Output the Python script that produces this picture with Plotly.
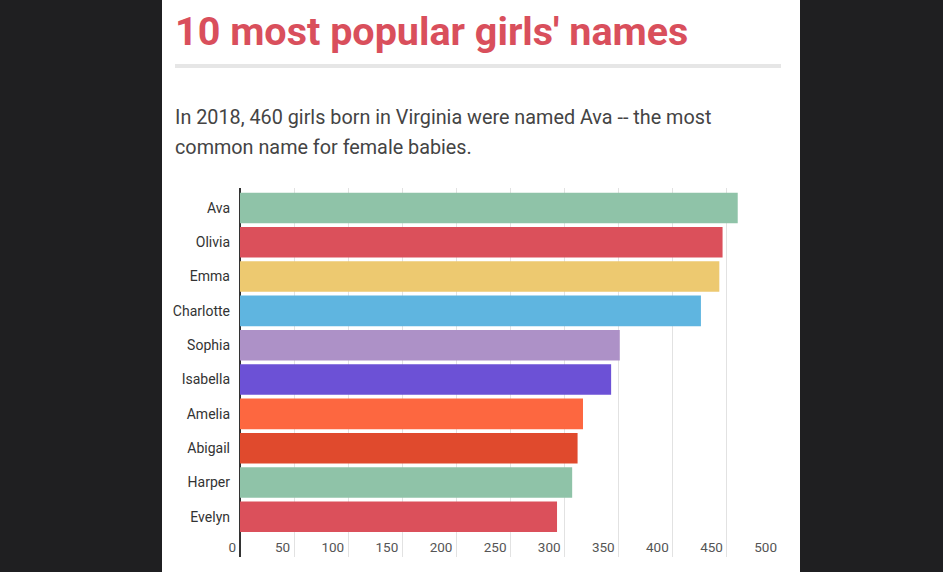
import plotly.graph_objects as go

# data
names = ["Ava", "Olivia", "Emma", "Charlotte", "Sophia",
         "Isabella", "Amelia", "Abigail", "Harper", "Evelyn"]
counts = [460, 446, 443, 426, 351, 343, 317, 312, 307, 293]
bar_colors = ["#8fc3a8", "#db505b", "#edc970", "#5fb5e0", "#ad91c7",
              "#6c51d6", "#fd6740", "#e04a2d", "#8fc3a8", "#db505b"]
x_ticks = [0, 50, 100, 150, 200, 250, 300, 350, 400, 450, 500]

title_text = "10 most popular girls' names"
subtitle_lines = ["In 2018, 460 girls born in Virginia were named Ava -- the most",
                  "common name for female babies."]

W, H = 943, 572

fig = go.Figure()

fig.add_trace(go.Bar(
    x=counts,
    y=names,
    orientation="h",
    marker=dict(color=bar_colors, line=dict(width=0)),
    width=0.89,
    hoverinfo="x+y",
))

# white card behind the chart
fig.add_shape(type="rect", xref="paper", yref="paper",
              x0=162 / W, x1=800 / W, y0=0, y1=1,
              fillcolor="white", line=dict(width=0), layer="below")
# grey rule under the title
fig.add_shape(type="line", xref="paper", yref="paper",
              x0=175 / W, x1=781 / W, y0=1 - 66 / H, y1=1 - 66 / H,
              line=dict(color="#e6e6e6", width=4))

fig.add_annotation(text=title_text, xref="paper", yref="paper",
                   x=173 / W, y=1 - 6 / H, xanchor="left", yanchor="top",
                   showarrow=False, align="left",
                   font=dict(family="Roboto", size=39.5, color="#d94f5c", weight="bold"))
for i, line in enumerate(subtitle_lines):
    fig.add_annotation(text=line, xref="paper", yref="paper",
                       x=173 / W, y=1 - (117 + 30 * i) / H,
                       xanchor="left", yanchor="middle",
                       showarrow=False, align="left",
                       font=dict(family="Roboto", size=19.8, color="#444444"))

# axis: domain starts a bit left of zero so the "0" label fits inside
x_left_px, x_zero_px, x_right_px = 222, 240, 781
x_min = -(x_zero_px - x_left_px) * 500 / (x_right_px - x_zero_px)

fig.update_layout(
    width=W, height=H,
    margin=dict(l=0, r=0, t=0, b=0),
    paper_bgcolor="#1f1f21",
    plot_bgcolor="rgba(0,0,0,0)",
    showlegend=False,
    bargap=0.11,
    xaxis=dict(
        domain=[x_left_px / W, x_right_px / W],
        range=[x_min, 500],
        tickvals=x_ticks,
        ticklabelposition="inside left",
        ticklabelshift=-4, ticklabelstandoff=-4,
        showgrid=True, gridcolor="#e2e2e2", gridwidth=1,
        zeroline=True, zerolinecolor="#333333", zerolinewidth=2,
        showline=False,
        tickfont=dict(family="Roboto", size=13.5, color="#555555"),
        fixedrange=True,
    ),
    yaxis=dict(
        domain=[1 - 557 / H, 1 - 188 / H],
        categoryorder="array", categoryarray=names,
        range=[10.17, -0.58],
        showgrid=False, zeroline=False, showline=False,
        ticks="", ticklen=0, ticklabelstandoff=-9,
        tickfont=dict(family="Roboto", size=14, color="#333333"),
        fixedrange=True,
    ),
)

fig.write_html("out.html", config={"displayModeBar": False},
               post_script="document.body.style.margin='0px';")
